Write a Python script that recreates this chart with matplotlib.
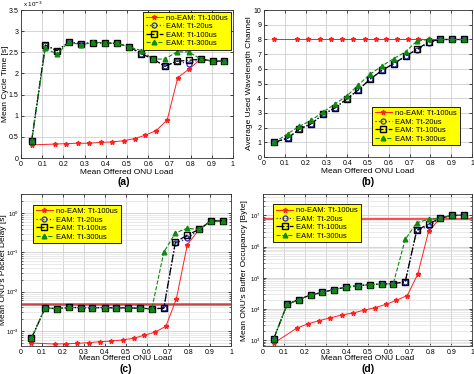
"""Four-panel EAM vs no-EAM comparison."""

import matplotlib

matplotlib.use("Agg")

import matplotlib.pyplot as plt
from matplotlib.ticker import FuncFormatter, LogLocator, MultipleLocator, NullFormatter

plt.rcParams["font.family"] = ["Liberation Sans", "DejaVu Sans"]

# offered ONU load of each simulation point
load_eam = [0.05, 0.115, 0.17, 0.227, 0.284, 0.34, 0.398, 0.453, 0.51,
            0.567, 0.623, 0.68, 0.735, 0.792, 0.848, 0.905, 0.96]
load_noeam = [0.05, 0.16, 0.213, 0.267, 0.322, 0.376, 0.43, 0.485, 0.536,
              0.587, 0.638, 0.69, 0.74, 0.792, 0.848, 0.905, 0.96]

series_labels = ["no-EAM: Tt-100us", "EAM: Tt-20us", "EAM: Tt-100us", "EAM: Tt-300us"]

# (a) mean cycle time, x 10^-3 s
cycle_noeam = [0.31, 0.33, 0.34, 0.35, 0.35, 0.37, 0.38, 0.41, 0.46,
               0.54, 0.65, 0.9, 1.9, 2.1, 2.34, 2.29, 2.29]
cycle_tt20 = [0.4, 2.67, 2.54, 2.74, 2.70, 2.73, 2.72, 2.71, 2.63,
              2.47, 2.34, 2.17, 2.29, 2.23, 2.34, 2.29, 2.29]
cycle_tt100 = [0.4, 2.67, 2.54, 2.74, 2.70, 2.73, 2.72, 2.71, 2.63,
               2.47, 2.34, 2.17, 2.29, 2.31, 2.34, 2.29, 2.29]
cycle_tt300 = [0.4, 2.6, 2.45, 2.75, 2.67, 2.74, 2.72, 2.71, 2.63,
               2.54, 2.34, 2.34, 2.51, 2.51, 2.34, 2.29, 2.29]

# (b) average used wavelength channels
chan_noeam = [8, 8, 8, 8, 8, 8, 8, 8, 8, 8, 8, 8, 8, 8, 8, 8, 8]
chan_tt20 = [1.0, 1.3, 1.9, 2.27, 2.9, 3.34, 3.95, 4.57, 5.3,
             5.9, 6.36, 6.86, 7.3, 7.77, 8.0, 8.0, 8.0]
chan_tt100 = [1.0, 1.3, 1.9, 2.27, 2.9, 3.34, 3.95, 4.57, 5.3,
              5.9, 6.36, 6.86, 7.33, 7.85, 8.0, 8.0, 8.0]
chan_tt300 = [1.0, 1.6, 2.1, 2.5, 3.07, 3.6, 4.16, 4.9, 5.64,
              6.2, 6.7, 7.16, 7.9, 8.0, 8.0, 8.0, 8.0]

# (c) mean packet delay [s]
delay_noeam = [5.0e-4, 4.7e-4, 4.8e-4, 4.9e-4, 5.1e-4, 5.4e-4, 5.6e-4, 6.0e-4, 6.6e-4,
               7.9e-4, 9.4e-4, 1.33e-3, 6.6e-3, 0.156, 0.38, 0.63, 0.63]
delay_tt20 = [6.6e-4, 3.9e-3, 3.7e-3, 4.0e-3, 3.95e-3, 3.95e-3, 3.95e-3, 3.9e-3, 3.9e-3,
              3.8e-3, 3.7e-3, 3.8e-3, 0.17, 0.226, 0.38, 0.63, 0.63]
delay_tt100 = [6.6e-4, 3.9e-3, 3.7e-3, 4.0e-3, 3.95e-3, 3.95e-3, 3.95e-3, 3.9e-3, 3.9e-3,
               3.8e-3, 3.7e-3, 3.8e-3, 0.18, 0.275, 0.38, 0.63, 0.63]
delay_tt300 = [6.6e-4, 3.9e-3, 3.7e-3, 4.0e-3, 3.95e-3, 3.95e-3, 3.95e-3, 3.9e-3, 3.9e-3,
               3.8e-3, 3.7e-3, 0.1, 0.31, 0.41, 0.38, 0.63, 0.63]
delay_limit = 5e-3

# (d) mean buffer occupancy [Byte]
buffer_noeam = [7.9e2, 2.4e3, 3.3e3, 4.2e3, 5.2e3, 6.4e3, 7.4e3, 9.2e3, 1.1e4,
                1.4e4, 1.9e4, 2.7e4, 1.3e5, 3.1e6, 8.2e6, 1e7, 1e7]
buffer_tt20 = [1.07e3, 1.4e4, 2.0e4, 2.8e4, 3.4e4, 4.2e4, 5.0e4, 5.6e4, 6.0e4,
               6.3e4, 6.5e4, 7.4e4, 3.3e6, 4.5e6, 8.2e6, 1e7, 1e7]
buffer_tt100 = [1.07e3, 1.4e4, 2.0e4, 2.8e4, 3.4e4, 4.2e4, 5.0e4, 5.6e4, 6.0e4,
                6.3e4, 6.5e4, 7.4e4, 3.3e6, 5.3e6, 8.2e6, 1e7, 1e7]
buffer_tt300 = [1.07e3, 1.4e4, 2.0e4, 2.8e4, 3.4e4, 4.2e4, 5.0e4, 5.6e4, 6.0e4,
                6.3e4, 6.5e4, 1.7e6, 5.8e6, 7.5e6, 8.2e6, 1e7, 1e7]
buffer_limit = 7.5e6

STYLES = [
    dict(color="#ff2020", linestyle="-", marker="*", markersize=3.5, linewidth=0.7),
    dict(color="#2b2bc8", linestyle=":", marker="o", markersize=3.6, linewidth=0.9,
         markerfacecolor="none", markeredgewidth=0.9),
    dict(color="black", linestyle="-.", marker="s", markersize=4.2, linewidth=0.9,
         markerfacecolor="none", markeredgewidth=1.0),
    dict(color="#118811", linestyle="--", marker="^", markersize=3.4, linewidth=0.8),
]


def draw_series(ax, ys):
    xs = [load_noeam, load_eam, load_eam, load_eam]
    for x, y, label, style in zip(xs, ys, series_labels, STYLES):
        ax.plot(x, y, label=label, **style)


def style_axes(ax, log=False):
    ax.set_xlim(0, 1)
    ax.xaxis.set_major_locator(MultipleLocator(0.1))
    ax.xaxis.set_major_formatter(FuncFormatter(lambda v, _: f"{v:g}"))
    ax.tick_params(direction="in", top=True, right=True, labelsize=5,
                   length=2.5, width=0.5, pad=2)
    ax.tick_params(which="minor", direction="in", right=True, length=1.5, width=0.4)
    ax.grid(True, which="major", color="#cfcfcf", linewidth=0.6)
    if log:
        ax.yaxis.set_minor_locator(LogLocator(base=10, subs=range(2, 10), numticks=20))
        ax.yaxis.set_minor_formatter(NullFormatter())
        ax.grid(True, which="minor", axis="y", color="#e0e0e0", linewidth=0.5)
        ax.tick_params(axis="y", labelsize=4.2, pad=1.5)
    ax.set_axisbelow(True)
    for spine in ax.spines.values():
        spine.set_linewidth(0.6)
        spine.set_color("#333333")
    ax.set_xlabel("Mean Offered ONU Load", fontsize=6)


def add_legend(ax, loc, anchor):
    leg = ax.legend(loc=loc, bbox_to_anchor=anchor, fontsize=5.5, handlelength=2.3,
                    labelspacing=0.15, borderpad=0.35, handletextpad=0.4,
                    borderaxespad=0, fancybox=False, framealpha=1)
    leg.get_frame().set_facecolor("#ffff00")
    leg.get_frame().set_edgecolor("black")
    leg.get_frame().set_linewidth(0.6)


fig = plt.figure(figsize=(4.74, 3.74), dpi=100)
ax_a = fig.add_axes([0.0443, 0.5775, 0.447, 0.3957])
ax_b = fig.add_axes([0.557, 0.580, 0.439, 0.393])
ax_c = fig.add_axes([0.0443, 0.0749, 0.443, 0.406])
ax_d = fig.add_axes([0.555, 0.0749, 0.441, 0.406])

# (a)
draw_series(ax_a, [cycle_noeam, cycle_tt20, cycle_tt100, cycle_tt300])
style_axes(ax_a)
ax_a.set_ylim(0, 3.5)
ax_a.yaxis.set_major_locator(MultipleLocator(0.5))
ax_a.yaxis.set_major_formatter(FuncFormatter(lambda v, _: f"{v:g}"))
ax_a.set_ylabel("Mean Cycle Time [s]", fontsize=6)
ax_a.text(0.01, 1.005, r"x 10$^{-3}$", transform=ax_a.transAxes, fontsize=4.5, va="bottom")
add_legend(ax_a, "upper right", (0.99, 0.99))

# (b)
draw_series(ax_b, [chan_noeam, chan_tt20, chan_tt100, chan_tt300])
style_axes(ax_b)
ax_b.set_ylim(0, 10)
ax_b.yaxis.set_major_locator(MultipleLocator(1))
ax_b.set_ylabel("Average Used Wavelength Channel", fontsize=6)
add_legend(ax_b, "lower right", (0.94, 0.08))

# (c)
ax_c.axhline(delay_limit, color="#c84848", linewidth=1.8, zorder=1.5)
draw_series(ax_c, [delay_noeam, delay_tt20, delay_tt100, delay_tt300])
ax_c.set_yscale("log")
style_axes(ax_c, log=True)
ax_c.set_ylim(4.2e-4, 3)
ax_c.set_ylabel("Mean ONU's Packet Delay [s]", fontsize=6)
add_legend(ax_c, "upper left", (0.057, 0.928))

# (d)
ax_d.axhline(buffer_limit, color="#ff2020", linewidth=1.1, zorder=1.5)
draw_series(ax_d, [buffer_noeam, buffer_tt20, buffer_tt100, buffer_tt300])
ax_d.set_yscale("log")
style_axes(ax_d, log=True)
ax_d.set_ylim(6.5e2, 4.8e7)
ax_d.set_ylabel("Mean ONU's Buffer Occupancy [Byte]", fontsize=6)
add_legend(ax_d, "upper left", (0.048, 0.934))

for ax in (ax_a, ax_b):
    ax.xaxis.set_label_coords(0.5, -0.072)
for ax in (ax_c, ax_d):
    ax.xaxis.set_label_coords(0.5, -0.058)
ax_a.yaxis.set_label_coords(-0.056, 0.5)
ax_b.yaxis.set_label_coords(-0.052, 0.5)
ax_c.yaxis.set_label_coords(-0.066, 0.5)
ax_d.yaxis.set_label_coords(-0.074, 0.5)

fig.text(0.262, 0.513, "(a)", fontsize=7.5, fontweight="bold", ha="center", va="center")
fig.text(0.776, 0.513, "(b)", fontsize=7.5, fontweight="bold", ha="center", va="center")
fig.text(0.265, 0.013, "(c)", fontsize=7.5, fontweight="bold", ha="center", va="center")
fig.text(0.776, 0.013, "(d)", fontsize=7.5, fontweight="bold", ha="center", va="center")

fig.savefig("out.png", dpi=100)
plt.close(fig)
